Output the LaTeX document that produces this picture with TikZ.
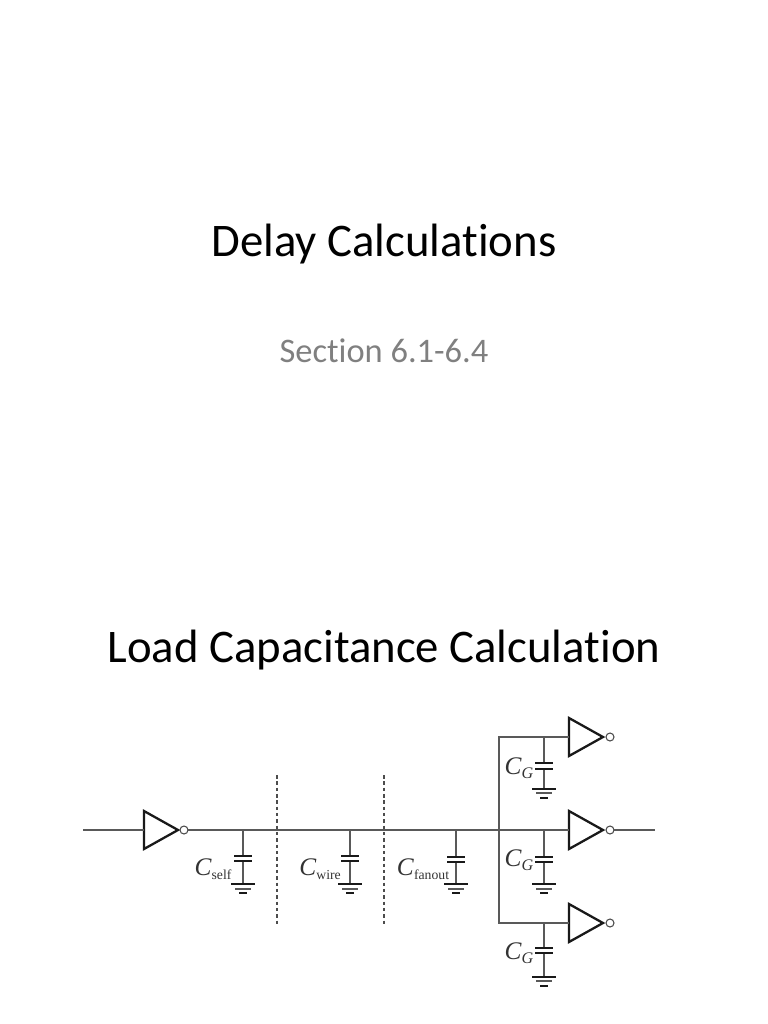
\documentclass[tikz,border=0pt]{standalone}
\usepackage{fontspec}
\setmainfont[Ligatures=NoCommon]{Carlito}
\newfontfamily\capfont{Liberation Serif}
\usetikzlibrary{shapes.geometric}

\newcommand{\capname}[1]{{\capfont\color{black!80}\fontsize{7.2}{7}\selectfont\textit{C}\raisebox{-1pt}{\fontsize{3.9}{5}\selectfont #1}}}
\newcommand{\capgate}{{\capfont\color{black!80}\fontsize{7.2}{7}\selectfont\textit{C}\raisebox{-1.2pt}{\fontsize{4.6}{5}\selectfont\textit{G}}}}

\tikzset{
  wire/.style={draw=black!65,line width=0.55pt},
  plate/.style={draw=black!90,line width=0.72pt},
  cut/.style={draw=black!70,line width=0.3pt,dash pattern=on 1pt off 0.8pt},
  inv/.style={isosceles triangle,isosceles triangle stretches,draw=black!90,line width=0.65pt,
    minimum width=0.38cm,minimum height=0.34cm,inner sep=0pt,outer sep=0pt,anchor=lower side},
  bubble/.style={circle,draw=black!70,fill=white,line width=0.3pt,minimum size=0.08cm,inner sep=0pt,outer sep=0pt},
  title/.style={text=black,font=\fontsize{13.3}{16}\selectfont},
  subtitle/.style={text=black!50,font=\fontsize{9.8}{12}\selectfont}
}

\begin{document}
\begin{tikzpicture}

  \useasboundingbox (0,0) rectangle (7.68,-10.24);

  \node[title] at (3.84,-2.44) (delay) {Delay Calculations};
  \node[subtitle] at (3.84,-3.51) (section) {Section 6.1-6.4};
  \node[title] at (3.84,-6.50) (load) {Load Capacitance Calculation};

  % inverters
  \node[inv] at (1.44,-8.30) (inv0) {};
  \node[bubble] at (1.84,-8.30) (out0) {};
  \node[inv] at (5.69,-7.37) (inv1) {};
  \node[bubble] at (6.10,-7.37) (out1) {};
  \node[inv] at (5.69,-8.30) (inv2) {};
  \node[bubble] at (6.10,-8.30) (out2) {};
  \node[inv] at (5.69,-9.23) (inv3) {};
  \node[bubble] at (6.10,-9.23) (out3) {};

  % wires
  \coordinate (in) at (0.83,-8.30);
  \coordinate (end) at (6.55,-8.30);
  \coordinate (bus1) at (4.99,-7.37);
  \coordinate (bus2) at (4.99,-8.30);
  \coordinate (bus3) at (4.99,-9.23);
  \draw[wire] (in) -- (inv0.lower side);
  \draw[wire] (out0) -- (bus2) -- (inv2.lower side);
  \draw[wire] (out2) -- (end);
  \draw[wire] (inv1.lower side) -- (bus1) -- (bus3) -- (inv3.lower side);

  % capacitors, from the wire down to ground
  \coordinate (self) at (2.43,-8.30);
  \coordinate (selfa) at (2.43,-8.56);
  \coordinate (selfb) at (2.43,-8.61);
  \coordinate (selfg) at (2.43,-8.84);
  \draw[wire] (self) -- (selfa);
  \draw[wire] (selfb) -- (selfg);
  \draw[plate] (2.34,-8.56) -- (2.52,-8.56);
  \draw[plate] (2.34,-8.61) -- (2.52,-8.61);
  \draw[plate] (2.31,-8.84) -- (2.55,-8.84);
  \draw[wire] (2.35,-8.89) -- (2.51,-8.89);
  \draw[plate] (2.39,-8.93) -- (2.47,-8.93);

  \coordinate (wire) at (3.50,-8.30);
  \coordinate (wirea) at (3.50,-8.56);
  \coordinate (wireb) at (3.50,-8.61);
  \coordinate (wireg) at (3.50,-8.84);
  \draw[wire] (wire) -- (wirea);
  \draw[wire] (wireb) -- (wireg);
  \draw[plate] (3.41,-8.56) -- (3.59,-8.56);
  \draw[plate] (3.41,-8.61) -- (3.59,-8.61);
  \draw[plate] (3.38,-8.84) -- (3.62,-8.84);
  \draw[wire] (3.42,-8.89) -- (3.58,-8.89);
  \draw[plate] (3.46,-8.93) -- (3.54,-8.93);

  \coordinate (fan) at (4.56,-8.30);
  \coordinate (fana) at (4.56,-8.57);
  \coordinate (fanb) at (4.56,-8.62);
  \coordinate (fang) at (4.56,-8.84);
  \draw[wire] (fan) -- (fana);
  \draw[wire] (fanb) -- (fang);
  \draw[plate] (4.47,-8.57) -- (4.65,-8.57);
  \draw[plate] (4.47,-8.62) -- (4.65,-8.62);
  \draw[plate] (4.44,-8.84) -- (4.68,-8.84);
  \draw[wire] (4.48,-8.89) -- (4.64,-8.89);
  \draw[plate] (4.52,-8.93) -- (4.60,-8.93);

  \coordinate (g1) at (5.44,-7.37);
  \coordinate (g1a) at (5.44,-7.63);
  \coordinate (g1b) at (5.44,-7.69);
  \coordinate (g1g) at (5.44,-7.89);
  \draw[wire] (g1) -- (g1a);
  \draw[wire] (g1b) -- (g1g);
  \draw[plate] (5.35,-7.63) -- (5.53,-7.63);
  \draw[plate] (5.35,-7.69) -- (5.53,-7.69);
  \draw[plate] (5.32,-7.89) -- (5.56,-7.89);
  \draw[wire] (5.36,-7.93) -- (5.52,-7.93);
  \draw[plate] (5.40,-7.98) -- (5.48,-7.98);

  \coordinate (g2) at (5.44,-8.30);
  \coordinate (g2a) at (5.44,-8.57);
  \coordinate (g2b) at (5.44,-8.62);
  \coordinate (g2g) at (5.44,-8.84);
  \draw[wire] (g2) -- (g2a);
  \draw[wire] (g2b) -- (g2g);
  \draw[plate] (5.35,-8.57) -- (5.53,-8.57);
  \draw[plate] (5.35,-8.62) -- (5.53,-8.62);
  \draw[plate] (5.32,-8.84) -- (5.56,-8.84);
  \draw[wire] (5.36,-8.89) -- (5.52,-8.89);
  \draw[plate] (5.40,-8.93) -- (5.48,-8.93);

  \coordinate (g3) at (5.44,-9.23);
  \coordinate (g3a) at (5.44,-9.48);
  \coordinate (g3b) at (5.44,-9.53);
  \coordinate (g3g) at (5.44,-9.77);
  \draw[wire] (g3) -- (g3a);
  \draw[wire] (g3b) -- (g3g);
  \draw[plate] (5.35,-9.48) -- (5.53,-9.48);
  \draw[plate] (5.35,-9.53) -- (5.53,-9.53);
  \draw[plate] (5.32,-9.77) -- (5.56,-9.77);
  \draw[wire] (5.36,-9.81) -- (5.52,-9.81);
  \draw[plate] (5.40,-9.86) -- (5.48,-9.86);

  % dashed cuts
  \coordinate (cut1a) at (2.77,-7.75);
  \coordinate (cut1b) at (2.77,-9.24);
  \coordinate (cut2a) at (3.84,-7.75);
  \coordinate (cut2b) at (3.84,-9.24);
  \draw[cut] (cut1a) -- (cut1b);
  \draw[cut] (cut2a) -- (cut2b);

  % labels
  \node at (2.13,-8.69) (cself) {\capname{self}};
  \node at (3.20,-8.69) (cwire) {\capname{wire}};
  \node at (4.23,-8.69) (cfan) {\capname{fanout}};
  \node at (5.19,-7.68) (cg1) {\capgate};
  \node at (5.19,-8.60) (cg2) {\capgate};
  \node at (5.19,-9.53) (cg3) {\capgate};

\end{tikzpicture}
\end{document}
